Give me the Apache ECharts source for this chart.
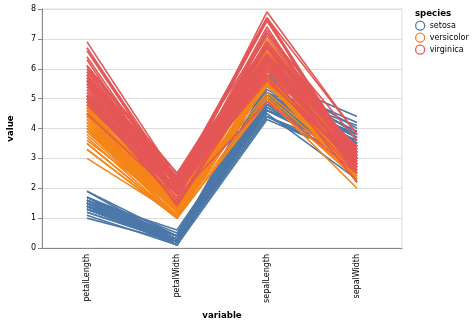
<!DOCTYPE html>
<html>
<head>
<meta charset="utf-8">
<script src="https://cdn.jsdelivr.net/npm/echarts@6/dist/echarts.min.js"></script>
<style>
  html, body { margin: 0; padding: 0; background: #fff; }
  #chart { width: 474px; height: 322px; }
</style>
</head>
<body>
<div id="chart"></div>
<script>
// Iris measurements, rows: [sepalLength, sepalWidth, petalLength, petalWidth]
const setosa = [
  [5.1,3.5,1.4,0.2],[4.9,3.0,1.4,0.2],[4.7,3.2,1.3,0.2],[4.6,3.1,1.5,0.2],[5.0,3.6,1.4,0.2],
  [5.4,3.9,1.7,0.4],[4.6,3.4,1.4,0.3],[5.0,3.4,1.5,0.2],[4.4,2.9,1.4,0.2],[4.9,3.1,1.5,0.1],
  [5.4,3.7,1.5,0.2],[4.8,3.4,1.6,0.2],[4.8,3.0,1.4,0.1],[4.3,3.0,1.1,0.1],[5.8,4.0,1.2,0.2],
  [5.7,4.4,1.5,0.4],[5.4,3.9,1.3,0.4],[5.1,3.5,1.4,0.3],[5.7,3.8,1.7,0.3],[5.1,3.8,1.5,0.3],
  [5.4,3.4,1.7,0.2],[5.1,3.7,1.5,0.4],[4.6,3.6,1.0,0.2],[5.1,3.3,1.7,0.5],[4.8,3.4,1.9,0.2],
  [5.0,3.0,1.6,0.2],[5.0,3.4,1.6,0.4],[5.2,3.5,1.5,0.2],[5.2,3.4,1.4,0.2],[4.7,3.2,1.6,0.2],
  [4.8,3.1,1.6,0.2],[5.4,3.4,1.5,0.4],[5.2,4.1,1.5,0.1],[5.5,4.2,1.4,0.2],[4.9,3.1,1.5,0.2],
  [5.0,3.2,1.2,0.2],[5.5,3.5,1.3,0.2],[4.9,3.6,1.4,0.1],[4.4,3.0,1.3,0.2],[5.1,3.4,1.5,0.2],
  [5.0,3.5,1.3,0.3],[4.5,2.3,1.3,0.3],[4.4,3.2,1.3,0.2],[5.0,3.5,1.6,0.6],[5.1,3.8,1.9,0.4],
  [4.8,3.0,1.4,0.3],[5.1,3.8,1.6,0.2],[4.6,3.2,1.4,0.2],[5.3,3.7,1.5,0.2],[5.0,3.3,1.4,0.2]
];
const versicolor = [
  [7.0,3.2,4.7,1.4],[6.4,3.2,4.5,1.5],[6.9,3.1,4.9,1.5],[5.5,2.3,4.0,1.3],[6.5,2.8,4.6,1.5],
  [5.7,2.8,4.5,1.3],[6.3,3.3,4.7,1.6],[4.9,2.4,3.3,1.0],[6.6,2.9,4.6,1.3],[5.2,2.7,3.9,1.4],
  [5.0,2.0,3.5,1.0],[5.9,3.0,4.2,1.5],[6.0,2.2,4.0,1.0],[6.1,2.9,4.7,1.4],[5.6,2.9,3.6,1.3],
  [6.7,3.1,4.4,1.4],[5.6,3.0,4.5,1.5],[5.8,2.7,4.1,1.0],[6.2,2.2,4.5,1.5],[5.6,2.5,3.9,1.1],
  [5.9,3.2,4.8,1.8],[6.1,2.8,4.0,1.3],[6.3,2.5,4.9,1.5],[6.1,2.8,4.7,1.2],[6.4,2.9,4.3,1.3],
  [6.6,3.0,4.4,1.4],[6.8,2.8,4.8,1.4],[6.7,3.0,5.0,1.7],[6.0,2.9,4.5,1.5],[5.7,2.6,3.5,1.0],
  [5.5,2.4,3.8,1.1],[5.5,2.4,3.7,1.0],[5.8,2.7,3.9,1.2],[6.0,2.7,5.1,1.6],[5.4,3.0,4.5,1.5],
  [6.0,3.4,4.5,1.6],[6.7,3.1,4.7,1.5],[6.3,2.3,4.4,1.3],[5.6,3.0,4.1,1.3],[5.5,2.5,4.0,1.3],
  [5.5,2.6,4.4,1.2],[6.1,3.0,4.6,1.4],[5.8,2.6,4.0,1.2],[5.0,2.3,3.3,1.0],[5.6,2.7,4.2,1.3],
  [5.7,3.0,4.2,1.2],[5.7,2.9,4.2,1.3],[6.2,2.9,4.3,1.3],[5.1,2.5,3.0,1.1],[5.7,2.8,4.1,1.3]
];
const virginica = [
  [6.3,3.3,6.0,2.5],[5.8,2.7,5.1,1.9],[7.1,3.0,5.9,2.1],[6.3,2.9,5.6,1.8],[6.5,3.0,5.8,2.2],
  [7.6,3.0,6.6,2.1],[4.9,2.5,4.5,1.7],[7.3,2.9,6.3,1.8],[6.7,2.5,5.8,1.8],[7.2,3.6,6.1,2.5],
  [6.5,3.2,5.1,2.0],[6.4,2.7,5.3,1.9],[6.8,3.0,5.5,2.1],[5.7,2.5,5.0,2.0],[5.8,2.8,5.1,2.4],
  [6.4,3.2,5.3,2.3],[6.5,3.0,5.5,1.8],[7.7,3.8,6.7,2.2],[7.7,2.6,6.9,2.3],[6.0,2.2,5.0,1.5],
  [6.9,3.2,5.7,2.3],[5.6,2.8,4.9,2.0],[7.7,2.8,6.7,2.0],[6.3,2.7,4.9,1.8],[6.7,3.3,5.7,2.1],
  [7.2,3.2,6.0,1.8],[6.2,2.8,4.8,1.8],[6.1,3.0,4.9,1.8],[6.4,2.8,5.6,2.1],[7.2,3.0,5.8,1.6],
  [7.4,2.8,6.1,1.9],[7.9,3.8,6.4,2.0],[6.4,2.8,5.6,2.2],[6.3,2.8,5.1,1.5],[6.1,2.6,5.6,1.4],
  [7.7,3.0,6.1,2.3],[6.3,3.4,5.6,2.4],[6.4,3.1,5.5,1.8],[6.0,3.0,4.8,1.8],[6.9,3.1,5.4,2.1],
  [6.7,3.1,5.6,2.4],[6.9,3.1,5.1,2.3],[5.8,2.7,5.1,1.9],[6.8,3.2,5.9,2.3],[6.7,3.3,5.7,2.5],
  [6.7,3.0,5.2,2.3],[6.3,2.5,5.0,1.9],[6.5,3.0,5.2,2.0],[6.2,3.4,5.4,2.3],[5.9,3.0,5.1,1.8]
];

const variables = ['petalLength', 'petalWidth', 'sepalLength', 'sepalWidth'];
const speciesNames = ['setosa', 'versicolor', 'virginica'];
const speciesColors = ['#4c78a8', '#f58518', '#e45756'];
const valueTicks = [0, 1, 2, 3, 4, 5, 6, 7, 8];

// column index of each variable within a row
const varIndex = { sepalLength: 0, sepalWidth: 1, petalLength: 2, petalWidth: 3 };

const FONT = 'DejaVu Sans, sans-serif';
const groups = [setosa, versicolor, virginica];
const series = [];
groups.forEach((rows, g) => {
  rows.forEach(row => {
    series.push({
      type: 'line',
      name: speciesNames[g],
      data: variables.map(v => row[varIndex[v]]),
      symbol: 'none',
      silent: true,
      animation: false,
      lineStyle: { width: 1.6, color: speciesColors[g] },
      itemStyle: { color: speciesColors[g] },
      emphasis: { disabled: true }
    });
  });
});

const chart = echarts.init(document.getElementById('chart'), null, { renderer: 'canvas' });
chart.setOption({
  animation: false,
  textStyle: { fontFamily: FONT },
  title: {
    text: 'species',
    left: 415, top: 9, padding: 0,
    textStyle: { fontSize: 8.6, fontWeight: 'bold', color: '#000', fontFamily: FONT }
  },
  legend: {
    orient: 'vertical',
    left: 415, top: 20.5, padding: 0,
    itemWidth: 9, itemHeight: 9, itemGap: 1.7,
    textStyle: { fontSize: 8, color: '#000', fontFamily: FONT },
    data: speciesNames.map((n, i) => ({
      name: n,
      icon: 'circle',
      itemStyle: { color: 'transparent', borderColor: speciesColors[i], borderWidth: 1.3 }
    }))
  },
  grid: {
    left: 42, right: 72, top: 9, bottom: 74,
    outerBoundsMode: 'none',
    containLabel: false,
    show: true, borderColor: '#ddd', borderWidth: 1, backgroundColor: 'transparent'
  },
  xAxis: {
    type: 'category',
    data: variables,
    boundaryGap: true,
    name: 'variable',
    nameLocation: 'middle',
    nameGap: 58,
    nameTextStyle: { fontSize: 8.6, fontWeight: 'bold', color: '#000', fontFamily: FONT },
    axisLine: { lineStyle: { color: '#888', width: 1 } },
    axisTick: { alignWithLabel: true, length: 4, lineStyle: { color: '#888' } },
    axisLabel: { rotate: 90, fontSize: 8, color: '#000', margin: 6, fontFamily: FONT },
    splitLine: { show: false }
  },
  yAxis: {
    type: 'value',
    min: valueTicks[0],
    max: valueTicks[valueTicks.length - 1],
    interval: 1,
    name: 'value',
    nameLocation: 'middle',
    nameGap: 27,
    nameTextStyle: { fontSize: 8.6, fontWeight: 'bold', color: '#000', fontFamily: FONT },
    axisLine: { show: true, lineStyle: { color: '#888', width: 1 } },
    axisTick: { show: true, length: 4, lineStyle: { color: '#888' } },
    axisLabel: { fontSize: 8, color: '#000', margin: 6, fontFamily: FONT },
    splitLine: { lineStyle: { color: '#ddd', width: 1 } }
  },
  series: series
});
</script>
</body>
</html>
